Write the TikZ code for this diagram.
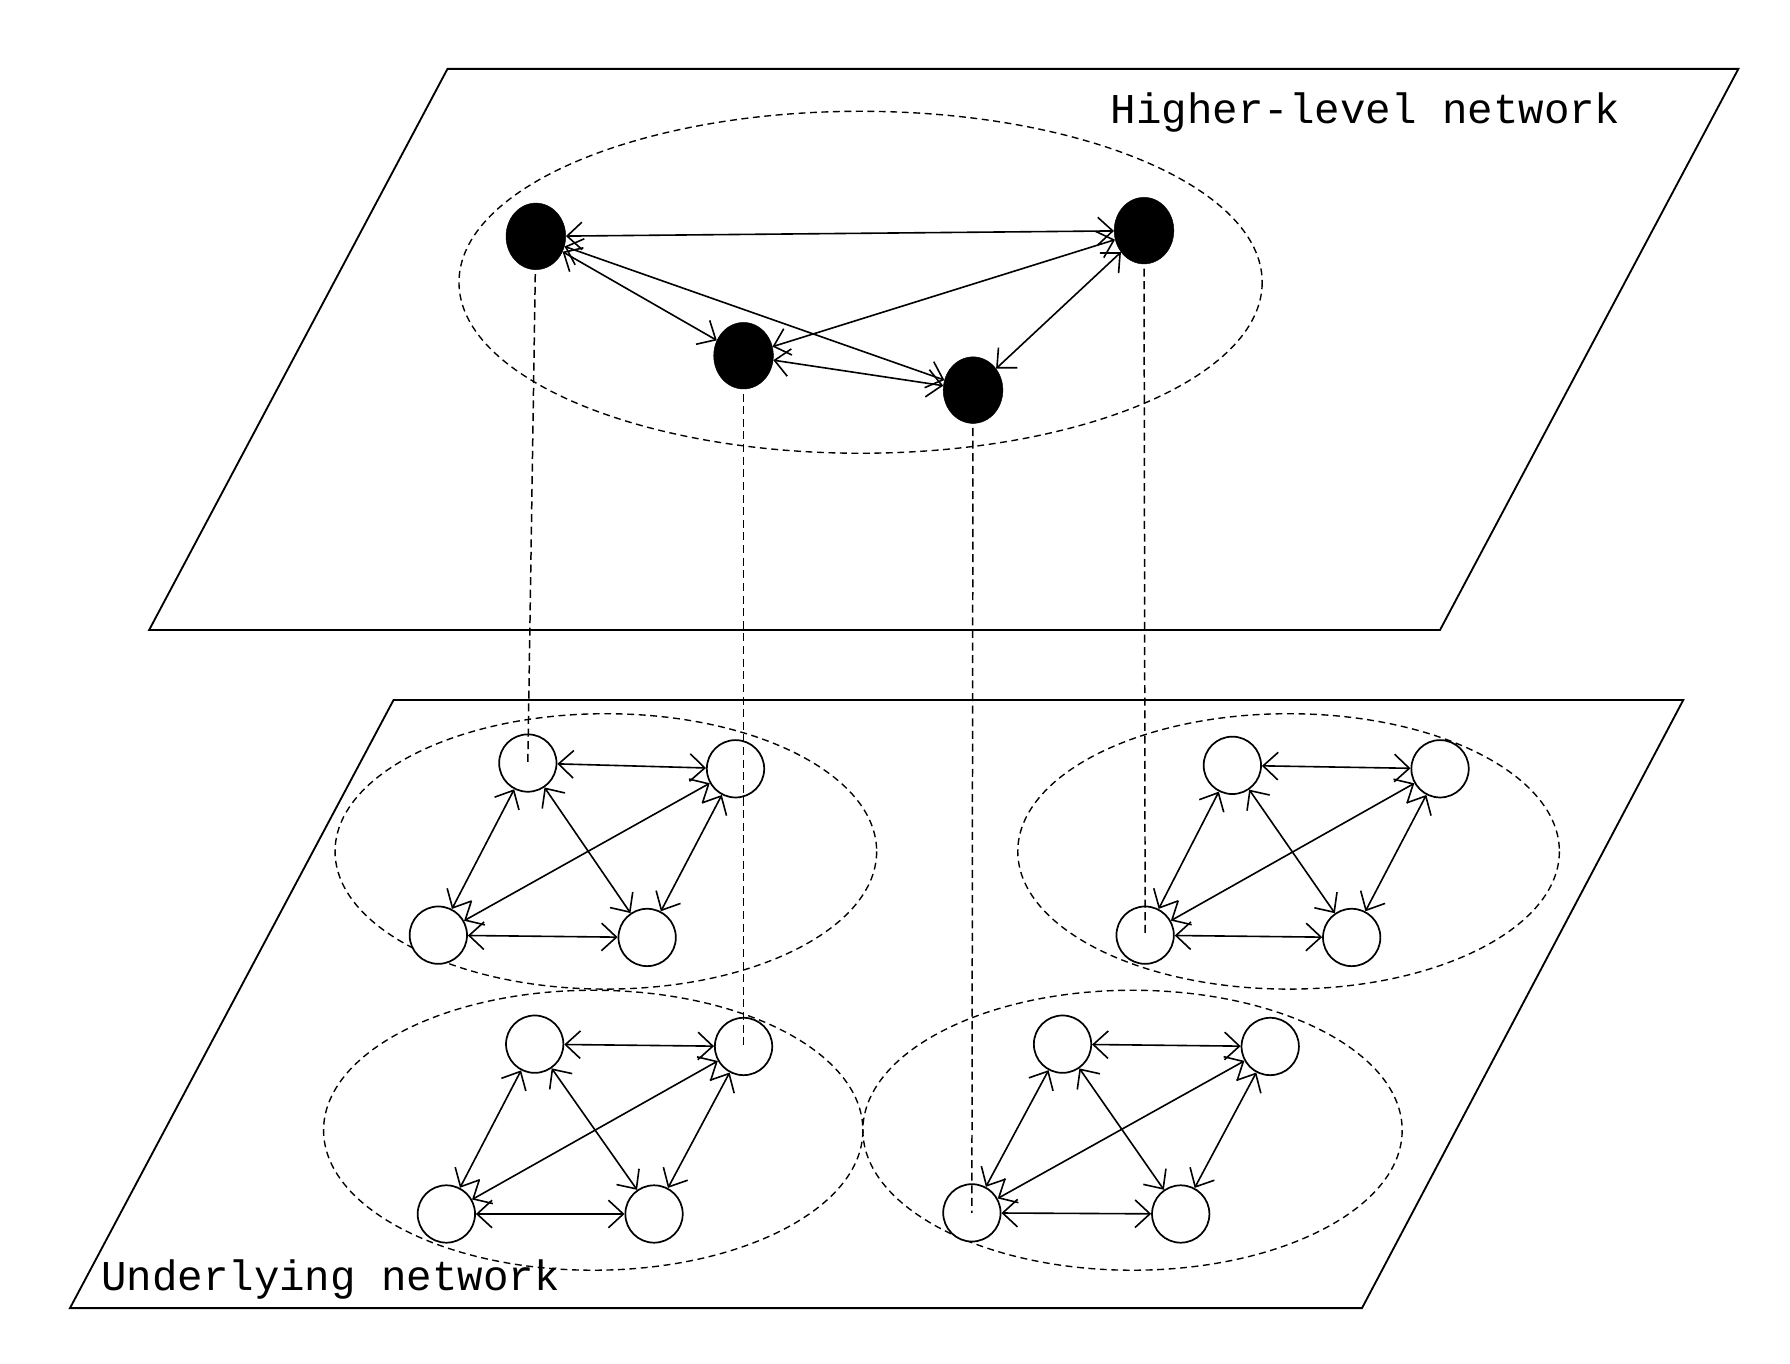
\documentclass[tikz,border=0pt]{standalone}
\usepackage{fontspec}
\setmonofont{Liberation Mono}
\usetikzlibrary{arrows.meta}
\begin{document}
\begin{tikzpicture}[x=1pt,y=-1pt,
  plane/.style={draw,line width=1.6pt},
  grp/.style={draw,dashed,line width=1.2pt,dash pattern=on 6pt off 4pt},
  hub/.style={draw,fill=black,ellipse,minimum width=52pt,minimum height=58pt,inner sep=0pt},
  leaf/.style={draw,fill=white,circle,minimum width=50pt,inner sep=0pt,line width=1.5pt},
  link/.style={line width=1.4pt,{Straight Barb[length=13pt,width=24pt]}-{Straight Barb[length=13pt,width=24pt]}},
  proj/.style={dashed,line width=1.3pt,dash pattern=on 7pt off 4pt},
  lbl/.style={font=\ttfamily\fontsize{37}{40}\selectfont,inner sep=0pt}]
\usetikzlibrary{shapes.geometric}
\useasboundingbox (0,0) rectangle (1560,1188);
% planes
\draw[plane] (390,60) -- (1515,60) -- (1255,549) -- (130,549) -- cycle;
\draw[plane] (343,610) -- (1467,610) -- (1187,1140) -- (61,1140) -- cycle;
\node[lbl,anchor=west] (hl) at (968,98) {Higher-level network};
\node[lbl,anchor=west] (ul) at (88,1115) {Underlying network};
% group ellipses
\draw[grp] (750,246) ellipse [x radius=350, y radius=149];
\draw[grp] (528,742) ellipse [x radius=236, y radius=120];
\draw[grp] (1123,742) ellipse [x radius=236, y radius=120];
\draw[grp] (517,985) ellipse [x radius=235, y radius=122];
\draw[grp] (987,985) ellipse [x radius=235, y radius=122];
% hubs
\node[hub] (A) at (467,206) {};
\node[hub] (B) at (997,201) {};
\node[hub] (C) at (648,310) {};
\node[hub] (D) at (848,340) {};
\foreach \u/\v in {A/B,A/C,A/D,C/B,C/D,D/B}
  \draw[link] (\u) -- (\v);
% clusters
\foreach \n/\ax/\ay/\bx/\by/\cx/\cy/\dx/\dy in {
  p/460/665/641/670/382/815/564/817,
  q/1074/667/1255/670/998/815/1178/817,
  r/466/910/648/912/389/1058/570/1058,
  s/926/910/1107/912/847/1057/1029/1058}{
  \node[leaf] (\n1) at (\ax,\ay) {};
  \node[leaf] (\n2) at (\bx,\by) {};
  \node[leaf] (\n3) at (\cx,\cy) {};
  \node[leaf] (\n4) at (\dx,\dy) {};
  \foreach \u/\v in {1/2,1/3,1/4,2/3,2/4,3/4}
    \draw[link] (\n\u) -- (\n\v);
}
% projections
\draw[proj] (A.center) -- (p1.center);
\draw[proj] (C.center) -- (r2.center);
\draw[proj] (D.center) -- (s3.center);
\draw[proj] (B.center) -- (q3.center);
\end{tikzpicture}
\end{document}
